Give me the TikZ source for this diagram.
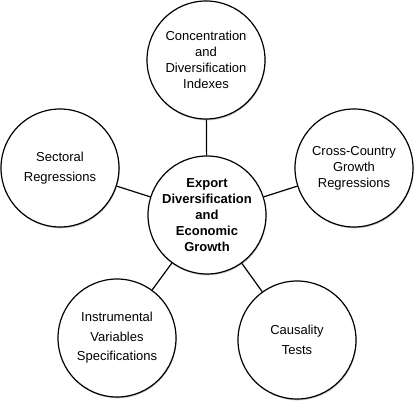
\documentclass[tikz,border=0pt]{standalone}
\usepackage{fontspec}
\setmainfont{Liberation Sans}
\usetikzlibrary{shapes,shadows}

\begin{document}
\begin{tikzpicture}[x=1pt, y=-1pt, line width=1.2pt,
    topic/.style={circle, draw=black, fill=white, minimum size=118pt, inner sep=0pt, align=center,
        font=\fontsize{13}{16}\selectfont,
        drop shadow={shadow xshift=0.6pt, shadow yshift=-1.3pt, fill=black!45, opacity=0.5}}]
        \useasboundingbox (0,0) rectangle (414,403);

        % Nodes
        \node[topic, font=\fontsize{13}{16}\selectfont\bfseries] (hub) at (207,215) {Export\\Diversification\\and\\Economic\\Growth};

        \node[topic] (indexes) at (206,60) {Concentration\\and\\Diversification\\Indexes};

        \node[topic, font=\fontsize{13}{20.5}\selectfont] (sectoral) at (60,168) {Sectoral\\Regressions};

        \node[topic] (crosscountry) at (354,168) {Cross-Country\\Growth\\Regressions};

        \node[topic, font=\fontsize{13}{19.5}\selectfont] (instrumental) at (117,338) {Instrumental\\Variables\\Specifications};

        \node[topic, font=\fontsize{13}{19.5}\selectfont] (causality) at (297,340) {Causality\\Tests};

        % Connectors
        \draw (hub) -- (indexes);
        \draw (hub) -- (sectoral);
        \draw (hub) -- (crosscountry);
        \draw (hub) -- (instrumental);
        \draw (hub) -- (causality);
    \end{tikzpicture}
\end{document}
